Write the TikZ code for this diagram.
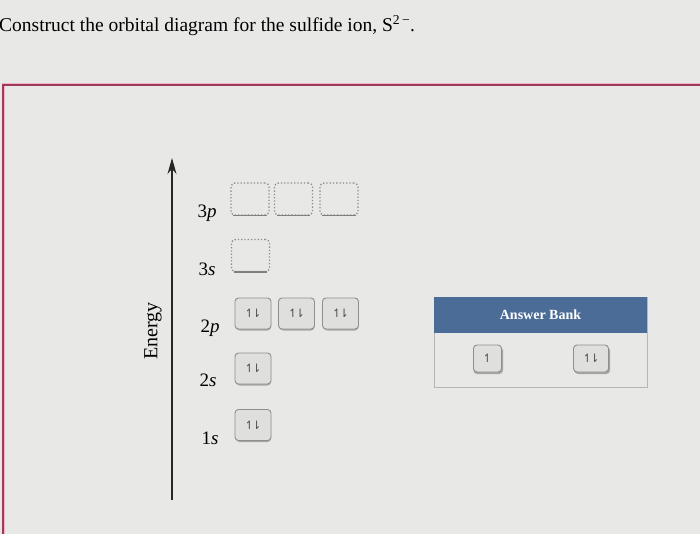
\documentclass[tikz,border=0pt]{standalone}
\usepackage{fontspec}
\setmainfont{Liberation Serif}
\newfontfamily\arrowfont{DejaVu Sans}
\usetikzlibrary{arrows.meta}
\definecolor{bg}{HTML}{E8E9E7}
\definecolor{frame}{HTML}{9C3A58}
\definecolor{framepink}{HTML}{F2B4C4}
\definecolor{boxfill}{HTML}{DFE0DE}
\definecolor{boxdraw}{HTML}{8E8F8E}
\definecolor{boxshadow}{HTML}{7E7F7E}
\definecolor{bankhead}{HTML}{4B6C97}
\definecolor{bankdraw}{HTML}{B5B6B5}
\definecolor{dotc}{HTML}{8A8A8A}
\tikzset{
  orb/.style={draw=boxdraw, fill=boxfill, line width=0.9pt, rounded corners=3.5pt,
    minimum width=36pt, minimum height=31pt, inner sep=0pt,
    font=\arrowfont\fontsize{11.5}{11.5}\selectfont, text=black!70},
  slot/.style={draw=dotc, dotted, line width=1.3pt, rounded corners=4pt,
    minimum width=38pt, minimum height=32pt, inner sep=0pt},
  lvl/.style={font=\fontsize{19}{19}\selectfont, inner sep=0pt},
  shadowline/.style={draw=boxshadow, line width=1.6pt},
}
\newcommand{\ud}{↿\kern-2.5pt⇂}
\begin{document}
\begin{tikzpicture}[x=1pt,y=-1pt]
\useasboundingbox (0,0) rectangle (700,534);
\fill[bg] (0,0) rectangle (700,534);
% title
\node[anchor=base west, inner sep=0pt, font=\fontsize{19.5}{19.5}\selectfont] (title) at (-1,32)
  {Construct the orbital diagram for the sulfide ion, S\textsuperscript{2\,−}.};
% frame
\draw[framepink, line width=3pt] (701,85) -- (3,85) -- (3,535);
\draw[frame, line width=1.2pt] (701,85) -- (3,85) -- (3,535);
% energy axis
\coordinate (axb) at (172,500);
\coordinate (axt) at (172,158);
\draw[line width=1.2pt, black!85, -{Stealth[length=16pt,width=9pt]}] (axb) -- (axt);
\node[rotate=90, inner sep=0pt, font=\fontsize{20}{20}\selectfont] (energy) at (153,331) {Energy};
% level labels
\node[lvl] (l3p) at (207,213) {3\textit{p}};
\node[lvl] (l3s) at (207,269) {3\textit{s}};
\node[lvl] (l2p) at (210,328) {2\textit{p}};
\node[lvl] (l2s) at (208,380) {2\textit{s}};
\node[lvl] (l1s) at (210,438) {1\textit{s}};
% empty slots 3p, 3s
\foreach \n/\x/\y in {s3pa/250/199, s3pb/293.5/199, s3pc/339/199, s3s/250.5/255.5}{
  \node[slot] (\n) at (\x,\y) {};
  \draw[shadowline] ([xshift=3pt]\n.south west) -- ([xshift=-3pt]\n.south east);
}
% filled orbitals
\foreach \n/\x/\y in {o2pa/253/313.5, o2pb/296.5/313.5, o2pc/340.5/313.5, o2s/253/368.5, o1s/253/425}{
  \fill[boxshadow!70] (\x-17,\y-13) [rounded corners=3.5pt] rectangle (\x+18,\y+17);
  \node[orb] (\n) at (\x,\y) {\ud};
}
% answer bank
\node[draw=bankdraw, line width=0.9pt, minimum width=213pt, minimum height=90pt, inner sep=0pt] (bank) at (540.5,342) {};
\node[fill=bankhead, minimum width=213pt, minimum height=36pt, inner sep=0pt,
  font=\bfseries\fontsize{14}{14}\selectfont, text=white] (bankhead) at (540.5,315) {Answer Bank};
\fill[boxshadow!70] (473.5,347) [rounded corners=3.5pt] rectangle (503,374);
\node[orb, minimum width=28pt, minimum height=27pt] (up) at (487.5,358.5) {↿};
\fill[boxshadow!70] (574.5,347) [rounded corners=3.5pt] rectangle (610,374);
\node[orb, minimum width=35pt, minimum height=27pt] (pair) at (591,358.5) {\ud};
\end{tikzpicture}
\end{document}
